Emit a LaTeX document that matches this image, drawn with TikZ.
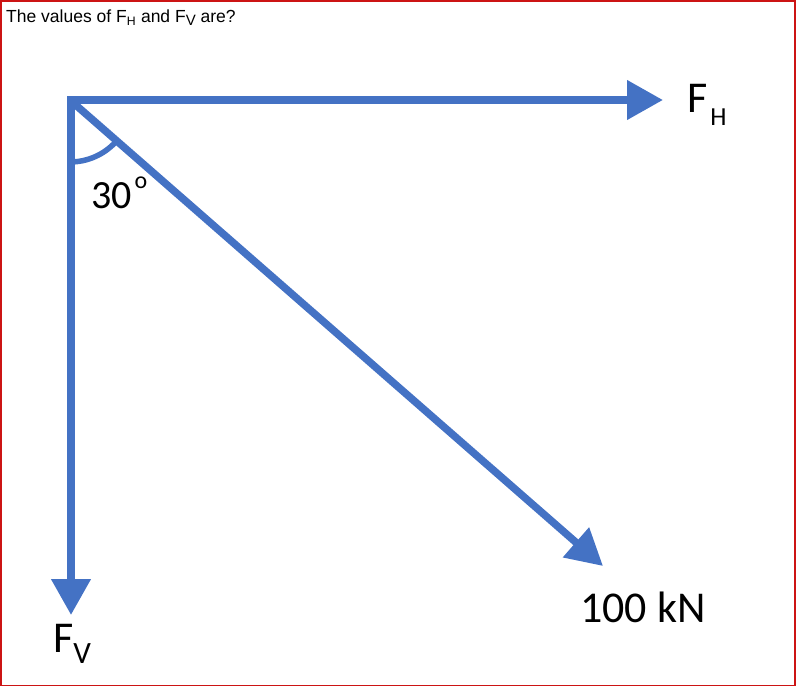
\documentclass[tikz,border=0pt]{standalone}
\usepackage{fontspec}
\setmainfont{Carlito}
\newfontfamily\arialfont{Liberation Sans}
\usetikzlibrary{arrows.meta}
\definecolor{fblue}{HTML}{4472C4}
\definecolor{fred}{HTML}{CC1414}
\begin{document}
\begin{tikzpicture}[x=1pt,y=-1pt,
  force/.style={draw=fblue, line width=7.5pt, -{Triangle[length=36pt,width=38pt]}},
  lbl/.style={inner sep=0pt, anchor=base west, font=\fontsize{44}{50}\selectfont}]
\useasboundingbox (0,0) rectangle (797,687);
\draw[fred, line width=1.6pt] (0.8,0.8) rectangle (795.2,685.6);
\node[inner sep=0pt, anchor=base west, font=\arialfont\fontsize{17.5}{20}\selectfont] (title) at (6,23)
  {The values of F\textsubscript{H} and F\raisebox{-3pt}{\fontsize{15}{17}\selectfont V} are?};
\coordinate (O) at (70,100);
\coordinate (hs) at (67,100);
\coordinate (vs) at (71,97);
\coordinate (H) at (663,100);
\coordinate (V) at (71,615);
\coordinate (R) at (603,566);
\draw[force] (hs) -- (H);
\draw[force] (vs) -- (V);
\draw[force] (O) -- (R);
\draw[fblue, line width=5.5pt] (O) ++(90:62) arc[start angle=90, end angle=41, radius=62];
\node[lbl, font=\fontsize{40}{46}\selectfont] (ang) at (91,208) {30\hspace{3pt}\raisebox{20pt}{\fontsize{24}{28}\selectfont o}};
\node[lbl] (fh) at (687,113) {F\hspace{3pt}\raisebox{-13pt}{\fontsize{26}{30}\selectfont H}};
\node[lbl] (fv) at (53,652) {F\raisebox{-11pt}{\fontsize{31}{36}\selectfont V}};
\node[lbl] (load) at (580,622) {100 kN};
\end{tikzpicture}
\end{document}
